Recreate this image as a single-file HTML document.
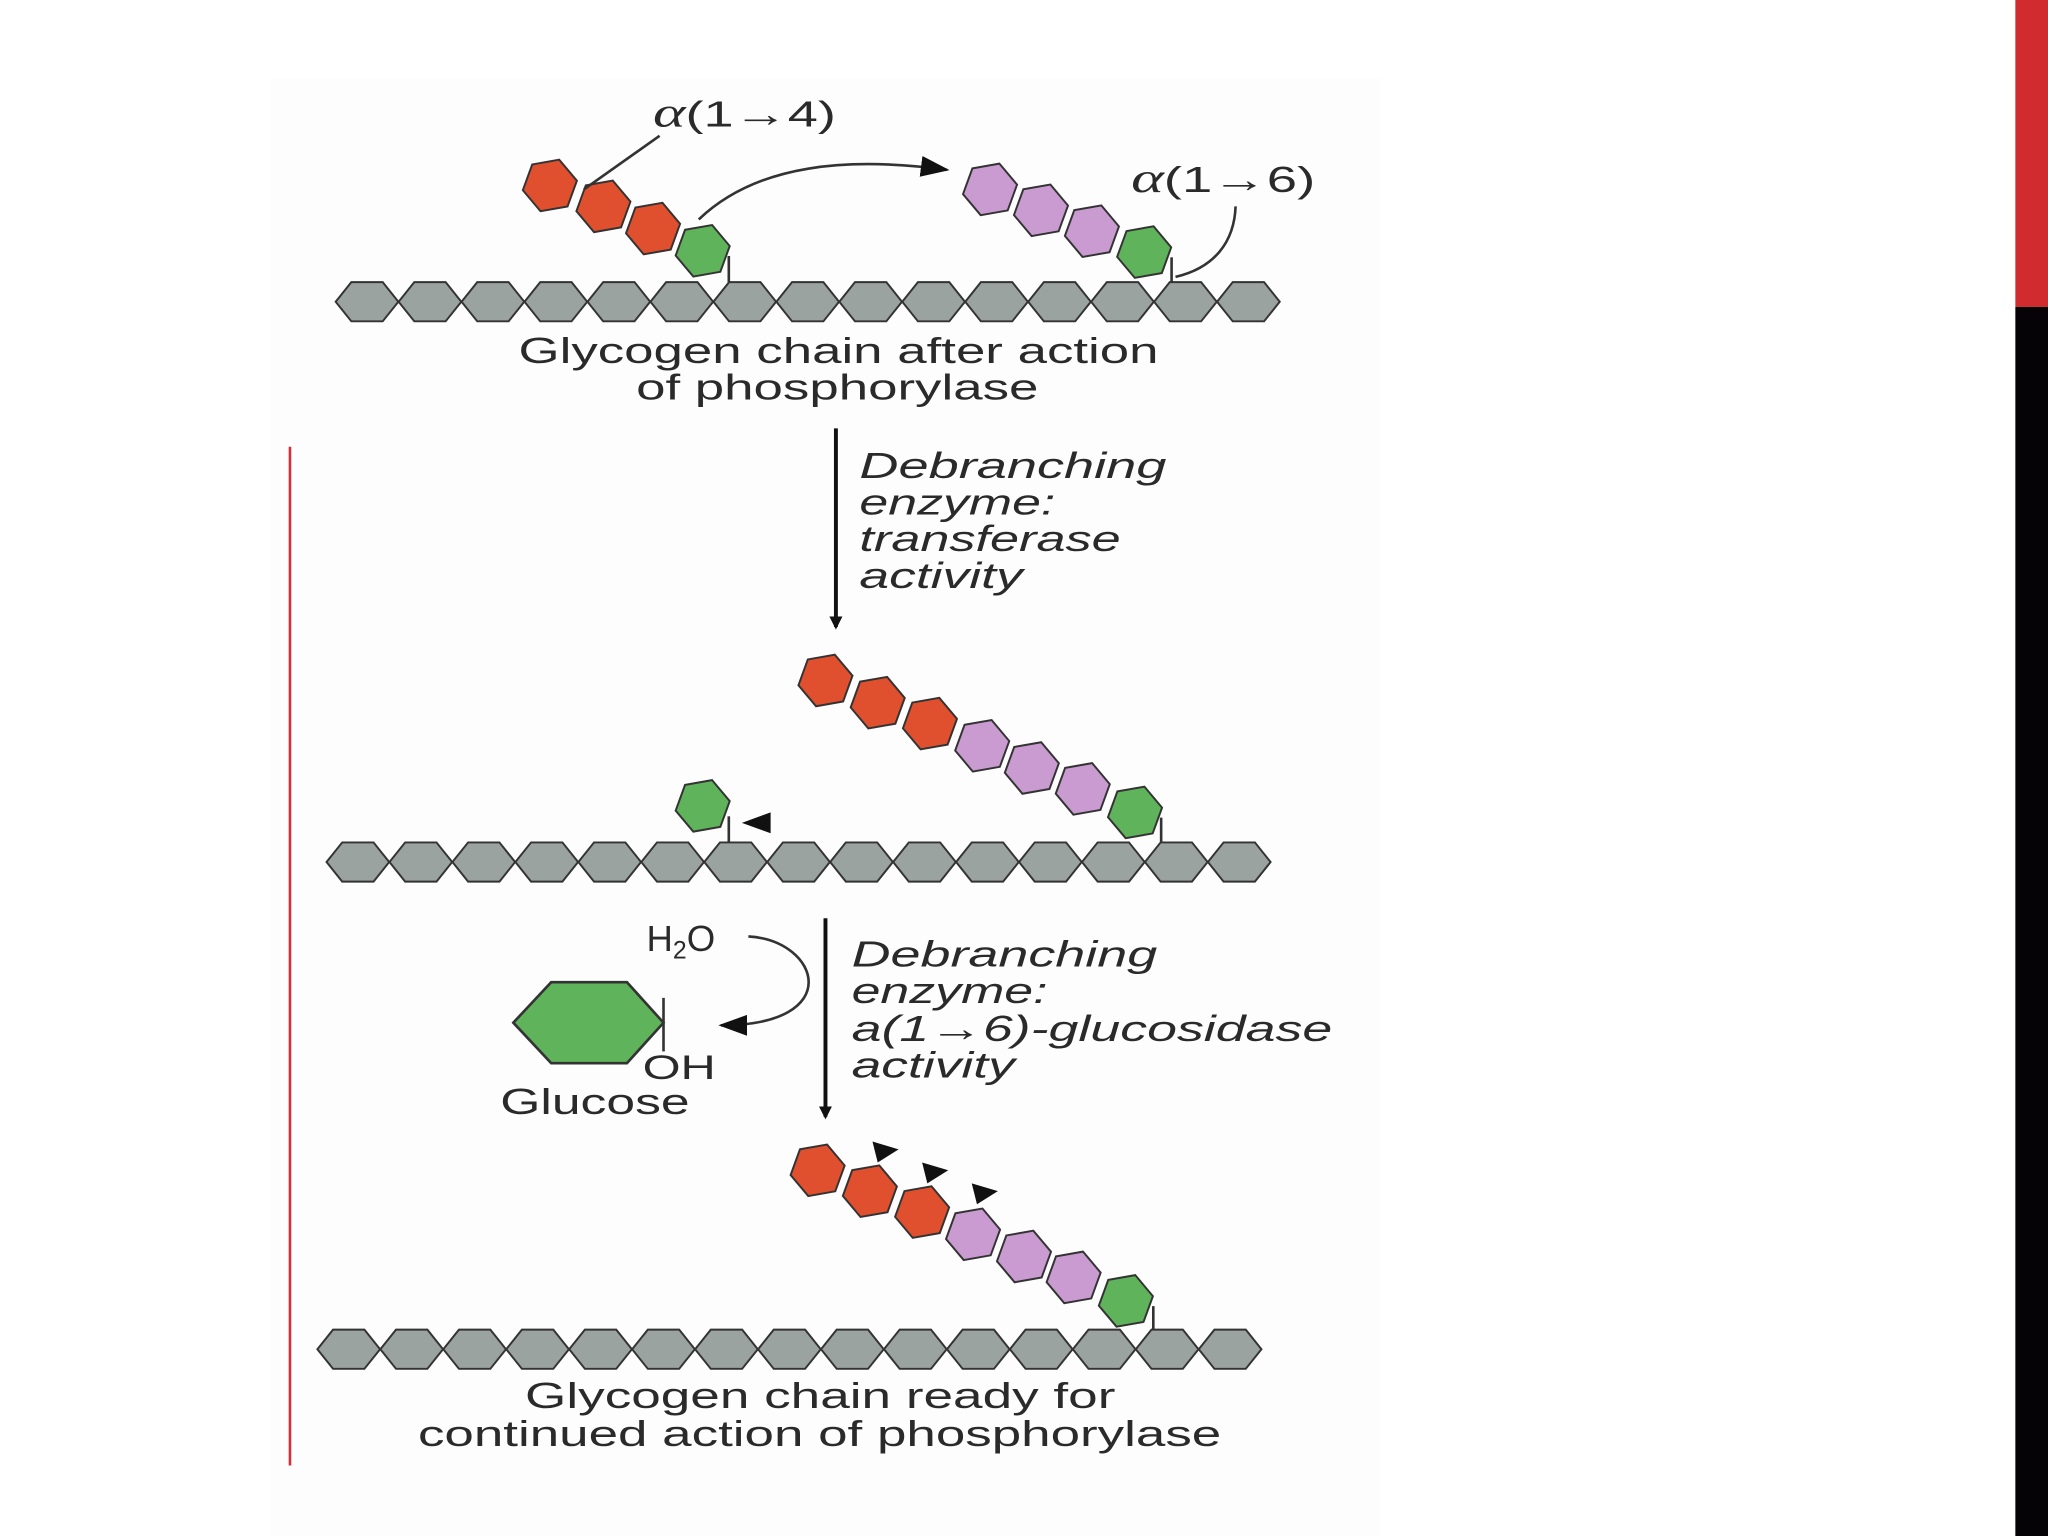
<!DOCTYPE html>
<html><head><meta charset="utf-8"><style>
html,body{margin:0;padding:0;background:#fff;}
svg{display:block;}
text{font-family:"Liberation Sans",Arial,sans-serif;fill:#2a2a2a;}
</style></head><body>
<svg width="2048" height="1536" viewBox="0 0 1568 1176" xmlns="http://www.w3.org/2000/svg">
<defs>
<polygon id="m" points="-24,0 -12,-15 12,-15 24,0 12,15 -12,15" fill="#9aa39f" stroke="#333" stroke-width="1.5"/>
<polygon id="r" points="0,-21 18.2,-10.5 18.2,10.5 0,21 -18.2,10.5 -18.2,-10.5" fill="#e0502e" stroke="#333" stroke-width="1.5" transform="rotate(20)"/>
<polygon id="p" points="0,-21 18.2,-10.5 18.2,10.5 0,21 -18.2,10.5 -18.2,-10.5" fill="#c99bd0" stroke="#333" stroke-width="1.5" transform="rotate(20)"/>
<polygon id="g" points="0,-21 18.2,-10.5 18.2,10.5 0,21 -18.2,10.5 -18.2,-10.5" fill="#5fb35a" stroke="#333" stroke-width="1.5" transform="rotate(20)"/>
<marker id="ah" markerWidth="10" markerHeight="10" refX="8" refY="5" orient="auto" markerUnits="userSpaceOnUse"><path d="M0,0 L10,5 L0,10z" fill="#111"/></marker>
<marker id="ah2" markerWidth="24" markerHeight="16" refX="20" refY="8" orient="auto" markerUnits="userSpaceOnUse"><path d="M0,0 L22,8 L0,16z" fill="#111"/></marker>
</defs>
<rect x="207" y="60" width="850" height="1116" fill="#fdfdfd"/>
<rect x="1543" y="0" width="25" height="235" fill="#d12b2f"/>
<rect x="1543" y="235" width="25" height="941" fill="#050305"/>
<line x1="222" y1="342" x2="222" y2="1122" stroke="#d0303a" stroke-width="2"/>

<g transform="translate(281,231)">
<use href="#m" x="0"/><use href="#m" x="48.2"/><use href="#m" x="96.4"/><use href="#m" x="144.6"/><use href="#m" x="192.8"/><use href="#m" x="241"/><use href="#m" x="289.2"/><use href="#m" x="337.4"/><use href="#m" x="385.6"/><use href="#m" x="433.8"/><use href="#m" x="482"/><use href="#m" x="530.2"/><use href="#m" x="578.4"/><use href="#m" x="626.6"/><use href="#m" x="674.8"/>
</g>
<line x1="558" y1="196" x2="558" y2="216" stroke="#333" stroke-width="2"/>
<line x1="897" y1="197" x2="897" y2="216" stroke="#333" stroke-width="2"/>
<use href="#r" x="421" y="142"/><use href="#r" x="462" y="158"/><use href="#r" x="500" y="175"/><use href="#g" x="538" y="192"/>
<use href="#p" x="758" y="145"/><use href="#p" x="797" y="161"/><use href="#p" x="836" y="177"/><use href="#g" x="876" y="193"/>
<line x1="505" y1="104" x2="447" y2="145" stroke="#333" stroke-width="2"/>
<path d="M535,168 C580,125 650,120 725,130" fill="none" stroke="#333" stroke-width="2" marker-end="url(#ah2)"/>
<path d="M946,158 C945,185 930,205 900,212" fill="none" stroke="#333" stroke-width="2"/>
<text x="500" y="97" font-size="28" textLength="140" lengthAdjust="spacingAndGlyphs"><tspan font-family="Liberation Serif" font-style="italic" font-size="32">α</tspan>(1→4)</text>
<text x="866" y="147" font-size="28" textLength="141" lengthAdjust="spacingAndGlyphs"><tspan font-family="Liberation Serif" font-style="italic" font-size="32">α</tspan>(1→6)</text>
<text x="397" y="278" font-size="28" textLength="490" lengthAdjust="spacingAndGlyphs">Glycogen chain after action</text>
<text x="487" y="306" font-size="28" textLength="308" lengthAdjust="spacingAndGlyphs">of phosphorylase</text>

<line x1="640" y1="328" x2="640" y2="480" stroke="#111" stroke-width="3" marker-end="url(#ah)"/>
<g font-size="28" font-style="italic">
<text x="658" y="366" textLength="235" lengthAdjust="spacingAndGlyphs">Debranching</text>
<text x="658" y="394" textLength="150" lengthAdjust="spacingAndGlyphs">enzyme:</text>
<text x="658" y="422" textLength="200" lengthAdjust="spacingAndGlyphs">transferase</text>
<text x="658" y="450" textLength="125" lengthAdjust="spacingAndGlyphs">activity</text>
</g>

<g transform="translate(274,660)">
<use href="#m" x="0"/><use href="#m" x="48.2"/><use href="#m" x="96.4"/><use href="#m" x="144.6"/><use href="#m" x="192.8"/><use href="#m" x="241"/><use href="#m" x="289.2"/><use href="#m" x="337.4"/><use href="#m" x="385.6"/><use href="#m" x="433.8"/><use href="#m" x="482"/><use href="#m" x="530.2"/><use href="#m" x="578.4"/><use href="#m" x="626.6"/><use href="#m" x="674.8"/>
</g>
<line x1="558" y1="625" x2="558" y2="645" stroke="#333" stroke-width="2"/>
<line x1="889" y1="626" x2="889" y2="645" stroke="#333" stroke-width="2"/>
<use href="#g" x="538" y="617"/>
<path d="M568,630 L590,622 L590,638z" fill="#111"/>
<use href="#r" x="632" y="521"/><use href="#r" x="672" y="538"/><use href="#r" x="712" y="554"/><use href="#p" x="752" y="571"/><use href="#p" x="790" y="588"/><use href="#p" x="829" y="604"/><use href="#g" x="869" y="622"/>

<line x1="632" y1="703" x2="632" y2="855" stroke="#111" stroke-width="3" marker-end="url(#ah)"/>
<path d="M573,717 C628,720 648,785 552,785" fill="none" stroke="#333" stroke-width="2" marker-end="url(#ah2)"/>
<g font-size="28" font-style="italic">
<text x="652" y="740" textLength="234" lengthAdjust="spacingAndGlyphs">Debranching</text>
<text x="652" y="768" textLength="150" lengthAdjust="spacingAndGlyphs">enzyme:</text>
<text x="652" y="797" textLength="368" lengthAdjust="spacingAndGlyphs">a(1→6)-glucosidase</text>
<text x="652" y="825" textLength="125" lengthAdjust="spacingAndGlyphs">activity</text>
</g>
<text x="495" y="728" font-size="28">H<tspan font-size="19" dy="6">2</tspan><tspan dy="-6">O</tspan></text>
<polygon points="393,783 422,752 480,752 508,783 480,814 422,814" fill="#5fb35a" stroke="#333" stroke-width="2"/>
<line x1="508" y1="764" x2="508" y2="805" stroke="#333" stroke-width="2"/>
<text x="492" y="826" font-size="26" textLength="56" lengthAdjust="spacingAndGlyphs">OH</text>
<text x="383" y="853" font-size="28" textLength="145" lengthAdjust="spacingAndGlyphs">Glucose</text>

<g transform="translate(267,1033)">
<use href="#m" x="0"/><use href="#m" x="48.2"/><use href="#m" x="96.4"/><use href="#m" x="144.6"/><use href="#m" x="192.8"/><use href="#m" x="241"/><use href="#m" x="289.2"/><use href="#m" x="337.4"/><use href="#m" x="385.6"/><use href="#m" x="433.8"/><use href="#m" x="482"/><use href="#m" x="530.2"/><use href="#m" x="578.4"/><use href="#m" x="626.6"/><use href="#m" x="674.8"/>
</g>
<line x1="883" y1="1000" x2="883" y2="1018" stroke="#333" stroke-width="2"/>
<use href="#r" x="626" y="896"/><use href="#r" x="666" y="912"/><use href="#r" x="706" y="928"/><use href="#p" x="745" y="945"/><use href="#p" x="784" y="962"/><use href="#p" x="822" y="978"/><use href="#g" x="862" y="996"/>
<path d="M668,874 L688,880 L672,890z" fill="#111"/>
<path d="M706,890 L726,896 L710,906z" fill="#111"/>
<path d="M744,906 L764,912 L748,922z" fill="#111"/>
<text x="402" y="1078" font-size="28" textLength="452" lengthAdjust="spacingAndGlyphs">Glycogen chain ready for</text>
<text x="320" y="1107" font-size="28" textLength="615" lengthAdjust="spacingAndGlyphs">continued action of phosphorylase</text>
</svg>
</body></html>
